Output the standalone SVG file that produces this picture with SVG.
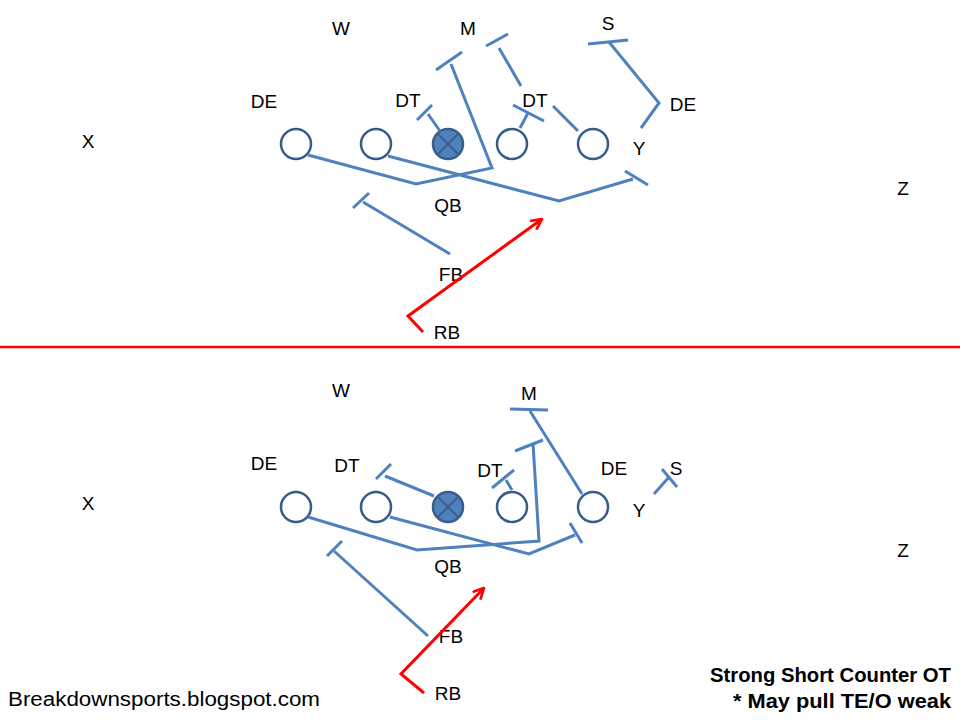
<svg xmlns="http://www.w3.org/2000/svg" width="960" height="720" viewBox="0 0 960 720">
<style>
.lbl{font-family:"Liberation Sans",Arial,sans-serif;font-size:19px;fill:#000;text-anchor:middle}
.blk{fill:none;stroke:#4F81BD;stroke-width:3;stroke-linejoin:miter}
.pl{fill:#fff;stroke:#385D8A;stroke-width:2.5}
.ctr{fill:#4F81BD;stroke:#385D8A;stroke-width:2.5}
.run{fill:none;stroke:#FF0000;stroke-width:3}
.note{font-family:"Liberation Sans",Arial,sans-serif;font-size:20px;fill:#000}
</style>
<defs>
<marker id="arr" viewBox="0 0 12 12" refX="11" refY="6" markerWidth="13" markerHeight="13" markerUnits="userSpaceOnUse" orient="auto">
<path d="M1,1 L11,6 L1,11" fill="none" stroke="#FF0000" stroke-width="2.5"/>
</marker>
</defs>
<rect width="960" height="720" fill="#fff"/>

<!-- TOP DIAGRAM -->
<g id="top-players">
<g id="t-lt"><circle class="pl" cx="296" cy="144" r="15"/></g>
<g id="t-lg"><circle class="pl" cx="376" cy="144" r="15"/></g>
<g id="t-c"><circle class="ctr" cx="448" cy="144" r="15"/><path d="M437.4,133.4 L458.6,154.6 M458.6,133.4 L437.4,154.6" stroke="#385D8A" stroke-width="2"/></g>
<g id="t-rg"><circle class="pl" cx="512" cy="144" r="15"/></g>
<g id="t-rt"><circle class="pl" cx="593" cy="144" r="15"/></g>
</g>
<g id="top-labels">
<g id="t-W"><text class="lbl" x="341" y="35">W</text></g>
<g id="t-M"><text class="lbl" x="468" y="35">M</text></g>
<g id="t-S"><text class="lbl" x="608" y="30">S</text></g>
<g id="t-DE1"><text class="lbl" x="264" y="108">DE</text></g>
<g id="t-DT1"><text class="lbl" x="408" y="107">DT</text></g>
<g id="t-DT2"><text class="lbl" x="535" y="107">DT</text></g>
<g id="t-DE2"><text class="lbl" x="683" y="111">DE</text></g>
<g id="t-Y"><text class="lbl" x="639" y="155">Y</text></g>
<g id="t-X"><text class="lbl" x="88" y="148">X</text></g>
<g id="t-Z"><text class="lbl" x="903" y="195">Z</text></g>
<g id="t-QB"><text class="lbl" x="448" y="212">QB</text></g>
<g id="t-FB"><text class="lbl" x="451" y="281">FB</text></g>
<g id="t-RB"><text class="lbl" x="447" y="339">RB</text></g>
</g>
<g id="top-connectors">
<polyline class="blk" points="308,155 416,184 492,168 451,64"/>
<line class="blk" x1="436" y1="70" x2="462" y2="52"/>
<polyline class="blk" points="388,156 559,201 633,179"/>
<line class="blk" x1="625" y1="171" x2="648" y2="185"/>
<line class="blk" x1="440" y1="131" x2="428" y2="114"/>
<line class="blk" x1="417" y1="120" x2="432" y2="105"/>
<line class="blk" x1="520" y1="128" x2="528" y2="113"/>
<line class="blk" x1="513" y1="105" x2="544" y2="121"/>
<line class="blk" x1="499" y1="48" x2="521" y2="86"/>
<line class="blk" x1="486" y1="46" x2="508" y2="34"/>
<line class="blk" x1="578" y1="131" x2="553" y2="106"/>
<polyline class="blk" points="641,128 659,103 609,42"/>
<line class="blk" x1="588" y1="44" x2="628" y2="40"/>
<line class="blk" x1="450" y1="254" x2="363" y2="202"/>
<line class="blk" x1="353" y1="208" x2="369" y2="193"/>
<polyline class="run" points="423,332 408,316 542,219" marker-end="url(#arr)"/>
</g>

<line x1="0" y1="347" x2="960" y2="347" stroke="#FF0000" stroke-width="2.5"/>

<!-- BOTTOM DIAGRAM -->
<g id="bottom-players">
<g id="b-lt"><circle class="pl" cx="296" cy="507" r="15"/></g>
<g id="b-lg"><circle class="pl" cx="376" cy="507" r="15"/></g>
<g id="b-c"><circle class="ctr" cx="448" cy="507" r="15"/><path d="M437.4,496.4 L458.6,517.6 M458.6,496.4 L437.4,517.6" stroke="#385D8A" stroke-width="2"/></g>
<g id="b-rg"><circle class="pl" cx="512" cy="507" r="15"/></g>
<g id="b-rt"><circle class="pl" cx="593" cy="507" r="15"/></g>
</g>
<g id="bottom-labels">
<g id="b-W"><text class="lbl" x="341" y="397">W</text></g>
<g id="b-M"><text class="lbl" x="529" y="400">M</text></g>
<g id="b-DE1"><text class="lbl" x="264" y="470">DE</text></g>
<g id="b-DT1"><text class="lbl" x="347" y="472">DT</text></g>
<g id="b-DT2"><text class="lbl" x="490" y="477">DT</text></g>
<g id="b-DE2"><text class="lbl" x="614" y="475">DE</text></g>
<g id="b-S"><text class="lbl" x="676" y="475">S</text></g>
<g id="b-Y"><text class="lbl" x="639" y="517">Y</text></g>
<g id="b-X"><text class="lbl" x="88" y="510">X</text></g>
<g id="b-Z"><text class="lbl" x="903" y="557">Z</text></g>
<g id="b-QB"><text class="lbl" x="448" y="573">QB</text></g>
<g id="b-FB"><text class="lbl" x="451" y="643">FB</text></g>
<g id="b-RB"><text class="lbl" x="448" y="700">RB</text></g>
</g>
<g id="bottom-connectors">
<polyline class="blk" points="308,517 417,550 539,541 533,443"/>
<line class="blk" x1="515" y1="451" x2="543" y2="440"/>
<polyline class="blk" points="390,517 529,554 575,535"/>
<line class="blk" x1="570" y1="523" x2="582" y2="543"/>
<line class="blk" x1="434" y1="496" x2="385" y2="476"/>
<line class="blk" x1="376" y1="479" x2="391" y2="464"/>
<line class="blk" x1="512" y1="490" x2="506" y2="480"/>
<line class="blk" x1="492" y1="488" x2="514" y2="470"/>
<line class="blk" x1="582" y1="494" x2="530" y2="411"/>
<line class="blk" x1="510" y1="409" x2="548" y2="410"/>
<line class="blk" x1="654" y1="494" x2="669" y2="477"/>
<line class="blk" x1="662" y1="469" x2="677" y2="487"/>
<line class="blk" x1="428" y1="636" x2="334" y2="551"/>
<line class="blk" x1="327" y1="556" x2="342" y2="541"/>
<polyline class="run" points="424,693 401,674 484,588" marker-end="url(#arr)"/>
</g>

<g id="notes">
<text class="note" x="8" y="706" textLength="312" lengthAdjust="spacingAndGlyphs">Breakdownsports.blogspot.com</text>
<text class="note" x="951" y="682" text-anchor="end" font-weight="bold" textLength="241" lengthAdjust="spacingAndGlyphs">Strong Short Counter OT</text>
<text class="note" x="951" y="708" text-anchor="end" font-weight="bold" textLength="218" lengthAdjust="spacingAndGlyphs">* May pull TE/O weak</text>
</g>
</svg>
